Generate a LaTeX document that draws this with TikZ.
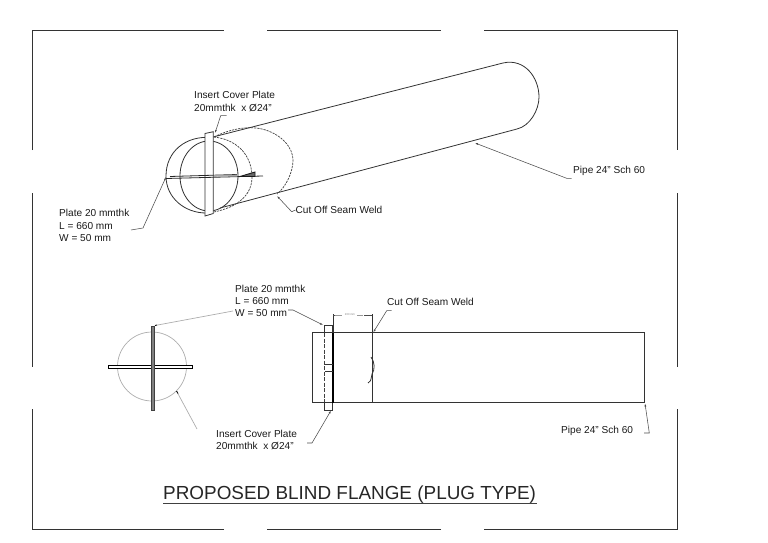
\documentclass[tikz,border=0pt]{standalone}
\usepackage{fontspec}
\setmainfont{Liberation Sans}
\usetikzlibrary{arrows.meta}
\tikzset{
  frame/.style={draw=black!80,line width=0.9pt},
  pipe/.style={draw=black!80,line width=0.8pt},
  hid/.style={draw=black!75,line width=0.7pt,dash pattern=on 2.2pt off 1pt},
  leader/.style={draw=black!70,line width=0.55pt},
  tip/.style={-{Latex[length=3pt,width=2pt]}},
  faint/.style={draw=black!32,line width=0.7pt},
  lab/.style={font=\fontsize{10.1}{12.5}\selectfont,text=black!90,inner sep=0pt,align=left},
}
\begin{document}
\begin{tikzpicture}[x=1pt,y=-1pt]
\useasboundingbox (0,0) rectangle (768,543);
% frame
\draw[frame] (32,150) -- (32,30) -- (224,30);
\draw[frame] (267,30) -- (441,30);
\draw[frame] (484,30) -- (677,30) -- (677,150);
\draw[frame] (677,193) -- (677,366.5);
\draw[frame] (677,409) -- (677,529) -- (484,529);
\draw[frame] (441,529) -- (267,529);
\draw[frame] (224,529) -- (32,529) -- (32,409);
\draw[frame] (32,366.5) -- (32,193);
% top pipe
\draw[pipe] (213,137) -- (503,63) .. controls (525,58) and (539,78) .. (539,97) .. controls (539,110) and (530,126) .. (517,129) -- (220,208);
\draw[hid] (214,137) .. controls (232,128) and (250,126) .. (262,129) .. controls (282,134) and (293,148) .. (293,160) .. controls (293,172) and (286,187) .. (277,194);
\draw[pipe] (213,137.5) .. controls (185,135) and (166,152) .. (166,176) .. controls (166,198) and (185,213) .. (206,213);
\draw[hid] (214,137) .. controls (240,140) and (252,158) .. (252,177) .. controls (252,195) and (238,207) .. (214,212);
\draw[pipe] (209,176) ellipse (29 and 35);
% cover plate, top view
\draw[pipe,fill=white] (205,133.5) -- (213.3,131.7) -- (213.3,213.5) -- (205,216) -- cycle;
\draw[draw=black!85,line width=0.8pt] (166,178.5) -- (263,176);
\draw[draw=black!85,line width=0.8pt] (170,176.5) -- (237,174.5);
\draw[draw=black!35,line width=1.6pt] (214,176) -- (237,175.5);
\draw[draw=black!90,line width=0.9pt,fill=black!60] (240,176.5) -- (255,172) -- (255,176.5) -- cycle;
% top labels
\node[lab,anchor=north west] (t1) at (194,91) {Insert Cover Plate\\20mmthk\ \ x Ø24"};
\coordinate (t1a) at (226.7,115.7);
\coordinate (t1b) at (220.7,115.7);
\coordinate (t1c) at (215,133);
\draw[leader,tip] (t1a) -- (t1b) -- (t1c);
\node[lab,anchor=north west] (t2) at (59,209) {Plate 20 mmthk\\L = 660 mm\\W = 50 mm};
\coordinate (t2a) at (131,230);
\coordinate (t2b) at (143,228);
\coordinate (t2c) at (166,177);
\draw[leader,tip] (t2a) -- (t2b) -- (t2c);
\node[lab,anchor=west] (t3) at (295.5,210) {Cut Off Seam Weld};
\coordinate (t3b) at (291.7,211.7);
\coordinate (t3c) at (277,196);
\draw[leader,tip] (t3.west) -- (t3b) -- (t3c);
\node[lab,anchor=west] (t4) at (573,171) {Pipe 24" Sch 60};
\coordinate (t4a) at (571.7,178.3);
\coordinate (t4b) at (566.7,178.3);
\coordinate (t4c) at (475,143);
\draw[leader,tip] (t4a) -- (t4b) -- (t4c);
% end view
\draw[faint] (152,366.5) circle (34.5);
\draw[draw=black,line width=0.8pt,fill=white] (108.5,365) rectangle (192.5,368.5);
\draw[draw=black!75,line width=0.6pt,fill=black!50] (151,326) rectangle (154,410);
\coordinate (e1) at (155,325.5);
\coordinate (e2) at (233,311);
\coordinate (e3) at (176.5,391);
\coordinate (e4) at (197,429);
\draw[faint] (e2) -- (e1);
\draw[faint] (e4) -- (e3);
\draw[draw=black,line width=0.8pt] (157,325) -- (e1);
\draw[draw=black,line width=0.8pt] (178,393.5) -- (e3);
% side view
\draw[pipe] (312.3,332.7) rectangle (644,402.7);
\draw[pipe] (372.3,314) -- (372.3,402.7);
\draw[pipe] (324.5,332.7) -- (324.5,325.7) -- (332.3,325.7) -- (332.3,410) -- (324.5,410) -- (324.5,402.7);
\draw[hid,line width=0.8pt,dash pattern=on 4pt off 1.5pt] (324.5,333) -- (324.5,402);
\draw[draw=black,line width=1.8pt] (333.3,332.7) -- (333.3,402.7);
\draw[pipe] (325,364) -- (333,364);
\draw[pipe] (325,371.7) -- (333,371.7);
\draw[pipe] (371,357) .. controls (375,362) and (375,370) .. (372,374) .. controls (370,377) and (373,380) .. (368,383);
\draw[pipe] (333.3,314) -- (333.3,333);
\draw[leader] (333.3,315) -- (335,315);
\draw[draw=black!40,line width=0.6pt] (335,315) -- (342,315);
\draw[draw=black!40,line width=0.6pt] (357,315) -- (363,315);
\draw[leader] (364,315) -- (372.3,315);
\node[font=\fontsize{2.8}{3}\selectfont,text=black!50,inner sep=0pt] (dimT) at (350,315) {200 mm};
% lower labels
\node[lab,anchor=north west,font=\fontsize{10.1}{12}\selectfont] (b1) at (235,285) {Plate 20 mmthk\\L = 660 mm\\W = 50 mm};
\coordinate (b1a) at (288,310);
\coordinate (b1b) at (293,310);
\coordinate (b1c) at (323,325);
\draw[leader,tip] (b1a) -- (b1b) -- (b1c);
\node[lab,anchor=west] (b2) at (387,302) {Cut Off Seam Weld};
\coordinate (b2a) at (391.7,310.7);
\coordinate (b2b) at (386.7,310.7);
\coordinate (b2c) at (373.3,332.3);
\draw[leader,tip] (b2a) -- (b2b) -- (b2c);
\node[lab,anchor=north west,font=\fontsize{10.1}{12}\selectfont] (b3) at (216,430) {Insert Cover Plate\\20mmthk\ \ x Ø24"};
\coordinate (b3a) at (307,443);
\coordinate (b3b) at (312,443);
\coordinate (b3c) at (331,410.5);
\draw[leader,tip] (b3a) -- (b3b) -- (b3c);
\node[lab,anchor=west] (b4) at (561,430.7) {Pipe 24" Sch 60};
\coordinate (b4a) at (644,433);
\coordinate (b4b) at (649.3,433);
\coordinate (b4c) at (645,403.5);
\draw[leader,tip] (b4a) -- (b4b) -- (b4c);
% title
\node[font=\fontsize{18.9}{22}\selectfont,text=black!85,inner sep=0pt,anchor=base west] (title) at (163,499) {PROPOSED BLIND FLANGE (PLUG TYPE)};
\draw[draw=black!75,line width=1pt] (163,503) -- (536.7,503);
\end{tikzpicture}
\end{document}
